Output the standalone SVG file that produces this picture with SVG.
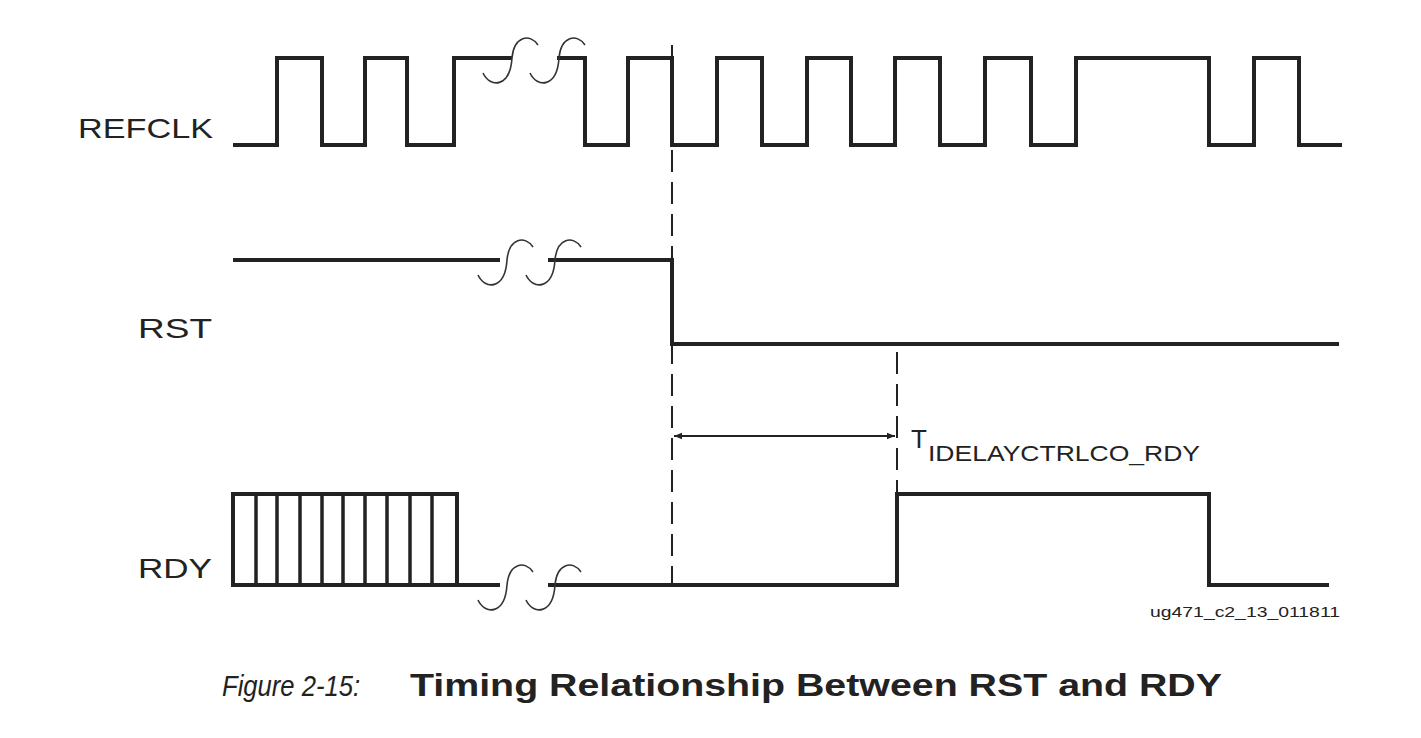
<svg xmlns="http://www.w3.org/2000/svg" width="1421" height="738" viewBox="0 0 1421 738">
<style>
.w{fill:none;stroke:#222;stroke-width:4;stroke-linejoin:miter}
.d{fill:none;stroke:#222;stroke-width:2;stroke-dasharray:22,10}
.b{fill:none;stroke:#333;stroke-width:1.6}
.t{font-family:"Liberation Sans",Arial,sans-serif;fill:#222}
</style>
<defs>
<marker id="ah" viewBox="0 0 10 10" refX="10" refY="5" markerWidth="8" markerHeight="8" orient="auto-start-reverse" markerUnits="userSpaceOnUse"><path d="M0,1 L10,5 L0,9 Z" fill="#222"/></marker>
<path id="brk" d="M-22,15 C-15,30 5,30 7,0 C9,-22 25,-25 33,-13"/>
</defs>
<rect width="1421" height="738" fill="#fff"/>
<g id="refclk">
<path class="w" d="M233,145 H277 V58 H322 V145 H365 V58 H407 V145 H454 V58 H512 M557,58 H585 V145 H628 V58 H672 V145 H717 V58 H762 V145 H807 V58 H851 V145 H895 V58 H940 V145 H985 V58 H1031 V145 H1076 V58 H1209 V145 H1254 V58 H1299 V145 H1342"/>
<use href="#brk" x="505" y="58" class="b"/><use href="#brk" x="552" y="58" class="b"/>
<text class="t" x="78" y="138" font-size="28" textLength="135" lengthAdjust="spacingAndGlyphs">REFCLK</text>
</g>
<g id="rst">
<path class="w" d="M233,260 H500 M548,260 H672 V344 H1339"/>
<use href="#brk" x="500" y="260" class="b"/><use href="#brk" x="548" y="260" class="b"/>
<text class="t" x="138" y="338" font-size="28" textLength="74" lengthAdjust="spacingAndGlyphs">RST</text>
</g>
<g id="rdy">
<path class="w" d="M457,585 H233 V494 H457 V585 H500 M548,585 H897 V494 H1209 V585 H1329"/>
<path class="w" d="M256,494V585 M277,494V585 M300,494V585 M322,494V585 M343,494V585 M365,494V585 M387,494V585 M410,494V585 M432,494V585" style="stroke-width:3.5"/>
<use href="#brk" x="500" y="585" class="b"/><use href="#brk" x="548" y="585" class="b"/>
<text class="t" x="138" y="578" font-size="28" textLength="74" lengthAdjust="spacingAndGlyphs">RDY</text>
</g>
<g id="connectors">
<path d="M672,45 V145" stroke="#222" stroke-width="2"/>
<path class="d" d="M672,150 V585"/>
<path class="d" d="M897,352 V494"/>
<path d="M674,436 H895" stroke="#222" stroke-width="2" marker-start="url(#ah)" marker-end="url(#ah)"/>
</g>
<g id="labels">
<text class="t" x="911" y="448" font-size="26">T</text>
<text class="t" x="928" y="461" font-size="22" textLength="272" lengthAdjust="spacingAndGlyphs">IDELAYCTRLCO_RDY</text>
<text class="t" x="1150" y="617" font-size="15" textLength="190" lengthAdjust="spacingAndGlyphs">ug471_c2_13_011811</text>
<text class="t" x="222" y="696" font-size="30" font-style="italic" textLength="138" lengthAdjust="spacingAndGlyphs">Figure 2-15:</text>
<text class="t" x="410" y="696" font-size="31" font-weight="bold" textLength="812" lengthAdjust="spacingAndGlyphs">Timing Relationship Between RST and RDY</text>
</g>
</svg>
